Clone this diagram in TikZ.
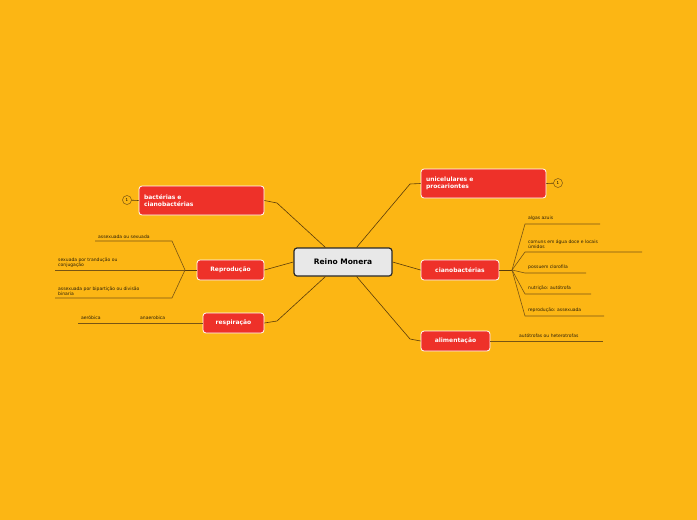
\documentclass[tikz,border=0pt]{standalone}
\usepackage{fontspec}
\setmainfont{DejaVu Sans}
\begin{document}
\begin{tikzpicture}[x=1pt,y=-1pt,
  bg/.style={fill={rgb,255:red,252;green,182;blue,20}},
  topic/.style={draw=white,line width=0.8pt,fill={rgb,255:red,238;green,49;blue,41},rounded corners=3pt,text=white,font=\bfseries\fontsize{6}{7}\selectfont,align=left,inner sep=0pt},
  central/.style={draw={rgb,255:red,40;green,40;blue,40},line width=1.2pt,fill={rgb,255:red,232;green,232;blue,232},rounded corners=3pt,font=\bfseries\fontsize{7.5}{9}\selectfont,inner sep=0pt},
  conn/.style={draw={rgb,255:red,90;green,60;blue,10},line width=0.6pt},
  leaf/.style={draw={rgb,255:red,120;green,85;blue,20},line width=0.6pt},
  lt/.style={font=\fontsize{4.5}{5.5}\selectfont,text={rgb,255:red,40;green,30;blue,10},align=left,anchor=south west,inner sep=1pt},
  badge/.style={circle,draw={rgb,255:red,120;green,85;blue,20},line width=0.5pt,inner sep=0pt,minimum size=9pt,font=\fontsize{4}{5}\selectfont}]
\path[bg] (0,0) rectangle (697,520);
\useasboundingbox (0,0) rectangle (697,520);
\node[central,minimum width=98pt,minimum height=28pt] (c) at (343,262) {Reino Monera};
\node[topic,minimum width=125pt,minimum height=29pt,text width=115pt] (b) at (201.5,200.5) {bactérias e\\cianobactérias};
\node[topic,minimum width=67pt,minimum height=20pt,align=center] (r) at (230.5,270) {Reprodução};
\node[topic,minimum width=61pt,minimum height=20pt,align=center] (s) at (233.5,323) {respiração};
\node[topic,minimum width=125pt,minimum height=29pt,text width=115pt] (u) at (483.5,183.5) {unicelulares e\\procariontes};
\node[topic,minimum width=78pt,minimum height=20pt,align=center] (ci) at (460,270) {cianobactérias};
\node[topic,minimum width=69pt,minimum height=20pt,align=center] (a) at (455.5,341) {alimentação};
\node[badge] (b1) at (127,200) {1};
\node[badge] (u1) at (558,183) {1};
\draw[conn] (b1) -- (b.west);
\draw[conn] (u1) -- (u.east);
\draw[conn] (c.north west) ++(32,0) coordinate (c1);
\draw[conn] (c1) -- (277,203) -- (b.east);
\draw[conn] (c.west) -- (r.east);
\draw[conn] (c.south west) ++(32,0) coordinate (c2);
\draw[conn] (c2) -- (277,321) -- (s.east);
\draw[conn] (c.north east) ++(-36,0) coordinate (c3);
\draw[conn] (c3) -- (410,184) -- (u.west);
\draw[conn] (c.east) -- (ci.west);
\draw[conn] (c.south east) ++(-36,0) coordinate (c4);
\draw[conn] (c4) -- (410,339) -- (a.west);
% Reproducao leaves
\coordinate (rj) at (185,270);
\draw[conn] (r.west) -- (rj);
\coordinate (r1) at (95,241); \coordinate (r2) at (55,270); \coordinate (r3) at (55,298);
\draw[leaf] (rj) -- (172,241) -- (r1);
\draw[leaf] (rj) -- (r2);
\draw[leaf] (rj) -- (172,298) -- (r3);
\node[lt] at (97,240) {assexuada ou sexuada};
\node[lt] at (57,269) {sexuada por trandução ou\\conjugação};
\node[lt] at (57,297) {assexuada por bipartição ou divisão\\binaria};
% respiracao
\coordinate (s1) at (78,323);
\draw[leaf] (s.west) -- (s1);
\node[lt] at (80,321) {aeróbica};
\node[lt] at (139,321) {anaerobica};
% cianobacterias leaves
\coordinate (cj) at (512,270);
\draw[conn] (ci.east) -- (cj);
\coordinate (k1) at (600,224); \coordinate (k2) at (642,262); \coordinate (k3) at (586,273); \coordinate (k4) at (591,294); \coordinate (k5) at (604,316);
\draw[leaf] (cj) -- (525,224) -- (k1);
\draw[leaf] (cj) -- (525,252) -- (k2 |- 0,252);
\draw[leaf] (cj) -- (525,273) -- (k3);
\draw[leaf] (cj) -- (525,294) -- (k4);
\draw[leaf] (cj) -- (525,316) -- (k5);
\node[lt] at (527,222) {algas azuis};
\node[lt] at (527,250) {comuns em água doce e locais\\úmidos};
\node[lt] at (527,271) {possuem clorofila};
\node[lt] at (527,292) {nutrição: autótrofa};
\node[lt] at (527,314) {reprodução: assexuada};
% alimentacao
\coordinate (a1) at (603,341);
\draw[leaf] (a.east) -- (a1);
\node[lt] at (518,339) {autótrofas ou heterotrofas};
\end{tikzpicture}
\end{document}
